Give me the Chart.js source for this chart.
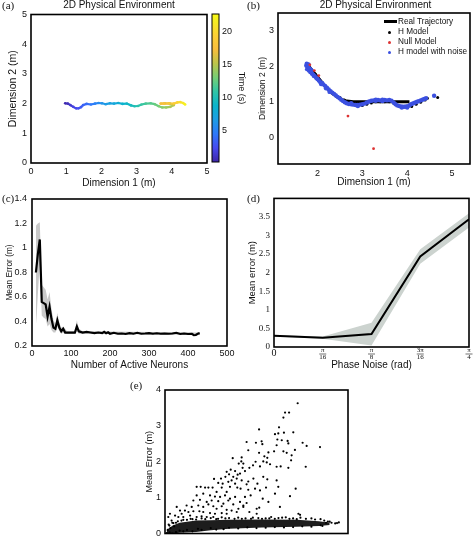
<!DOCTYPE html>
<html><head><meta charset="utf-8">
<script src="https://cdn.jsdelivr.net/npm/chart.js@4"></script>
<style>
html,body{margin:0;padding:0;background:#fff;overflow:hidden;width:474px;height:538px;}
canvas{position:absolute;left:0;top:0;}
.t{position:absolute;white-space:nowrap;font-family:"Liberation Sans",Arial,sans-serif;color:#111;line-height:1;transform:translate(-50%,-50%);}
.pl{position:absolute;white-space:nowrap;font-family:"Liberation Serif",serif;color:#111;font-size:11px;line-height:1;transform:translateY(-50%);}
.lt{position:absolute;white-space:nowrap;font-family:"Liberation Sans",Arial,sans-serif;color:#111;font-size:8.2px;line-height:1;transform:translateY(-50%);}
.sw{position:absolute;}
</style></head><body>
<canvas id="ca" width="474" height="538"></canvas>
<canvas id="ccb" width="474" height="538"></canvas>
<canvas id="cb" width="474" height="538"></canvas>
<canvas id="cc" width="474" height="538"></canvas>
<canvas id="cd" width="474" height="538"></canvas>
<canvas id="ce" width="474" height="570"></canvas>

<div class="pl" style="left:2px;top:5px">(a)</div>
<div class="t" style="left:119px;top:4.5px;font-size:10px">2D Physical Environment</div>
<div class="pl" style="left:247px;top:5px">(b)</div>
<div class="t" style="left:375.5px;top:4.5px;font-size:10px">2D Physical Environment</div>
<div class="pl" style="left:2px;top:198px">(c)</div>
<div class="pl" style="left:247px;top:197.5px">(d)</div>
<div class="pl" style="left:130px;top:385px">(e)</div>

<div class="sw" style="left:384px;top:20.3px;width:13px;height:3px;background:#000"></div>
<div class="lt" style="left:398px;top:21.7px">Real Trajectory</div>
<div class="sw" style="left:388px;top:30.8px;width:3px;height:3px;border-radius:50%;background:#000"></div>
<div class="lt" style="left:398px;top:32.3px">H Model</div>
<div class="sw" style="left:388px;top:40.8px;width:3px;height:3px;border-radius:50%;background:#dd3333"></div>
<div class="lt" style="left:398px;top:42.3px">Null Model</div>
<div class="sw" style="left:388px;top:50.8px;width:3px;height:3px;border-radius:50%;background:#3b50e0"></div>
<div class="lt" style="left:398px;top:52.3px">H model with noise</div>

<script>
// ---------- Panel (a): trajectory coloured by time ----------
const trajX = [0.97,1.05,1.12,1.2,1.28,1.35,1.42,1.48,1.58,1.7,1.82,1.92,2.02,2.12,2.24,2.36,2.48,2.6,2.72,2.84,2.94,3.04,3.14,3.26,3.4,3.52,3.63,3.73,3.84,3.96,4.06,3.94,3.8,3.68,3.78,3.92,4.06,4.16,4.24,4.32,4.38];
const trajY = [2.01,2.0,1.95,1.89,1.84,1.84,1.88,1.95,1.99,1.97,2.0,2.02,2.01,1.98,2.01,2.0,2.02,1.99,2.0,1.94,1.91,1.92,1.97,2.0,2.01,1.98,1.91,1.87,1.87,1.89,1.95,2.0,2.01,2.0,2.0,2.01,2.0,2.04,2.05,2.02,1.97];
const trajT = [0.5,1,1.5,2,2.4,2.8,3.2,3.6,4,4.6,5.2,5.7,6.2,6.7,7.2,7.7,8.2,8.7,9.2,9.7,10.2,10.7,11.2,11.7,12.2,12.7,13.2,13.7,14.2,14.7,15.2,16,16.6,17.2,17.8,18.4,19,19.8,20.6,21.4,22.2];
const aTicks = [0,1,2,3,4,5];
const cbarRange = [0.3, 22.7];
const cbarTicks = [5,10,15,20];

// ---------- Panel (b) ----------
const realX = [1.79,1.85,1.95,2.05,2.15,2.25,2.35,2.45,2.55,2.65,2.8,3.0,3.5,4.05];
const realY = [2.04,1.93,1.78,1.62,1.47,1.33,1.22,1.13,1.06,1.02,1.0,1.0,1.0,1.0];
const hX = [1.8,1.85,1.9,1.95,2.0,2.05,2.1,2.2,2.3,2.4,2.5,2.6,2.7,2.8,2.9,3.0,3.1,3.2,3.3,3.4,3.5,3.6,3.7,3.8,3.9,4.0,4.1,4.2,4.3,4.4,4.45,4.68];
const hY = [2.0,1.92,1.85,1.78,1.7,1.62,1.55,1.42,1.3,1.2,1.12,1.05,1.0,0.96,0.92,0.9,0.93,0.97,1.0,1.0,1.0,1.0,0.96,0.9,0.86,0.85,0.87,0.93,0.99,1.05,1.1,1.12];
const nullX = [1.83,1.93,2.03,2.68,3.25];
const nullY = [2.04,1.88,1.74,0.6,-0.32];
const noiseX = [1.75,1.76,1.78,1.77,1.8,1.81,1.84,1.86,1.88,1.91,1.94,1.97,2.0,2.03,2.06,2.1,2.13,2.17,2.21,2.25,2.29,2.33,2.37,2.41,2.45,2.49,2.53,2.57,2.61,2.65,2.7,2.75,2.8,2.85,2.9,2.95,3.0,3.05,3.1,3.15,3.2,3.25,3.3,3.35,3.4,3.45,3.5,3.55,3.6,3.65,3.7,3.74,3.78,3.82,3.86,3.9,3.94,3.98,4.02,4.06,4.1,4.14,4.18,4.22,4.26,4.3,4.34,4.38,4.42,4.6,1.79,1.83,1.87,1.92,1.99,2.08,2.19,2.27,2.75,2.9,3.3,3.45,3.88,4.0];
const noiseY = [2.02,2.07,1.97,1.92,2.05,1.88,1.84,1.9,1.79,1.76,1.72,1.68,1.64,1.6,1.56,1.53,1.49,1.45,1.4,1.35,1.3,1.26,1.22,1.18,1.14,1.1,1.06,1.02,0.99,0.96,0.94,0.93,0.92,0.91,0.91,0.92,0.93,0.95,0.98,1.01,1.03,1.04,1.03,1.05,1.04,1.06,1.05,1.04,1.05,1.03,0.98,0.93,0.9,0.88,0.87,0.86,0.86,0.87,0.88,0.91,0.94,0.96,0.98,1.0,1.02,1.04,1.06,1.08,1.1,1.17,2.0,1.93,1.82,1.73,1.66,1.5,1.38,1.28,0.96,0.88,1.06,1.02,0.84,0.84];
const bTicksX = [2,3,4,5];
const bTicksY = [0,1,2,3];

// ---------- Panel (c) ----------
const neurons = [10,15,20,25,30,35,40,45,50,55,60,65,70,75,80,85,90,100,110,115,120,130,140,150,160,170,180,185,190,195,200,210,220,230,240,250,260,270,280,290,300,310,320,330,340,350,360,370,380,390,400,410,415,420,425,430];
const meanErr = [0.80,0.95,1.07,0.56,0.55,0.54,0.44,0.52,0.42,0.35,0.34,0.41,0.35,0.32,0.34,0.31,0.31,0.31,0.31,0.36,0.32,0.31,0.315,0.31,0.305,0.31,0.305,0.315,0.305,0.312,0.3,0.308,0.3,0.302,0.298,0.305,0.3,0.308,0.3,0.302,0.305,0.3,0.304,0.3,0.302,0.3,0.302,0.308,0.298,0.302,0.298,0.3,0.288,0.29,0.3,0.305];
const bandN = [10,12,15,20,25,30,35,40,45,50,55,60,65,70,75,80,90,110,115,120,130,430];
const bandLow = [0.37,0.45,0.62,0.88,0.45,0.43,0.42,0.36,0.38,0.33,0.31,0.31,0.36,0.32,0.3,0.31,0.3,0.3,0.32,0.3,0.3,0.29];
const bandHigh = [1.18,1.19,1.2,1.21,0.7,0.68,0.66,0.58,0.64,0.5,0.41,0.38,0.47,0.39,0.35,0.36,0.32,0.32,0.41,0.34,0.32,0.31];
const cTicksX = [0,100,200,300,400,500];
const cTicksY = [0.2,0.4,0.6,0.8,1,1.2,1.4];

// ---------- Panel (d) ----------
const phase = [0, 0.19635, 0.392699, 0.589049, 0.785398];
const phaseLabels = [['0'], ['π','16'], ['π','8'], ['3π','16'], ['π','4']];
const dMean = [0.3,0.25,0.35,2.44,3.44];
const dLow = [0.28,0.22,0.04,2.24,3.22];
const dHigh = [0.32,0.28,0.65,2.63,3.6];
const dTicksY = [0,0.5,1,1.5,2,2.5,3,3.5];

// ---------- Panel (e) ----------
const eX = [72.5,65.6,67.8,64.7,51.4,62.3,60.1,61.9,65.0,70.1,61.4,63.8,67.0,44.6,49.7,52.8,53.2,61.0,67.4,75.2,77.4,41.9,56.5,59.6,64.7,66.5,69.2,45.5,51.4,54.3,55.9,53.7,37.0,40.3,41.7,42.8,71.0,35.9,38.3,39.7,41.0,42.4,43.7,46.1,48.1,49.5,51.9,55.6,57.4,61.0,63.2,67.4,68.9,33.7,35.0,33.0,30.6,37.3,39.2,36.4,41.9,45.5,48.3,53.7,55.9,26.8,29.1,31.5,34.6,38.3,39.5,44.6,49.2,50.5,61.0,61.9,76.9,17.3,19.5,21.9,23.7,26.0,28.2,31.0,33.7,35.5,41.3,45.5,51.9,55.2,60.1,71.4,17.3,20.9,24.6,27.3,30.1,32.8,35.5,38.3,43.7,46.8,53.4,68.3,15.5,19.1,22.8,25.5,29.1,31.9,34.6,37.3,41.0,42.8,44.6,50.1,51.5,56.5,62.8,11.8,14.6,18.2,20.9,23.7,26.4,28.2,31.0,33.7,36.4,40.1,42.8,46.1,50.1,72.9,73.8,6.4,8.2,10.9,12.8,15.5,18.8,20.9,24.6,27.3,31.0,33.7,39.2,2.7,5.5,7.3,9.1,10.0,13.7,17.3,20.0,22.8,26.4,1.8,3.6,4.6,2.4,84.7,88,90,93,95,12,20,28,35,42,48,55,62,68,74,80,85,6,9,15,31,58,66,1,2.5,4,6,8,12,18,25,35,45,60,75,85,4,7,10,14,17,22,25,29,33,38,40,44,47,51,53,57,60,64,70,72,77,82,87,89,91,94,10,15,20,28,32,40,50,55,65,70,80,86,1.5,3,2,5];
const eY = [3.63,3.37,3.37,3.23,2.90,2.96,2.77,2.79,2.81,2.82,2.62,2.60,2.58,2.55,2.53,2.57,2.49,2.46,2.51,2.53,2.44,2.12,2.26,2.29,2.29,2.25,2.18,2.32,2.25,2.15,2.11,2.01,2.10,1.95,2.01,1.95,2.33,1.78,1.74,1.64,1.67,1.83,1.74,1.83,1.90,2.00,1.87,1.98,1.93,1.86,1.87,1.83,2.04,1.72,1.65,1.58,1.53,1.58,1.53,1.48,1.48,1.45,1.53,1.58,1.51,1.52,1.41,1.39,1.44,1.39,1.28,1.37,1.25,1.39,1.48,1.30,1.86,1.30,1.30,1.28,1.28,1.28,1.16,1.28,1.16,1.30,1.25,1.22,1.20,1.28,1.11,1.25,1.06,1.11,1.06,1.03,1.02,1.06,0.97,1.02,1.02,1.06,0.97,1.04,0.92,0.94,0.88,0.92,0.90,0.83,0.92,0.81,0.88,0.78,0.85,0.69,0.72,0.88,0.74,0.78,0.74,0.78,0.74,0.81,0.76,0.69,0.76,0.66,0.64,0.69,0.74,0.60,0.55,0.55,0.52,0.74,0.64,0.64,0.60,0.62,0.62,0.60,0.57,0.55,0.57,0.55,0.60,0.55,0.50,0.46,0.55,0.46,0.50,0.46,0.48,0.46,0.46,0.46,0.36,0.29,0.22,2.41,0.3,0.33,0.28,0.31,0.38,0.42,0.40,0.43,0.41,0.44,0.42,0.43,0.41,0.44,0.42,0.40,0.30,0.36,0.40,0.45,0.46,0.45,0.01,0.03,0.0,0.04,0.08,0.1,0.13,0.15,0.16,0.17,0.18,0.2,0.23,0.3,0.34,0.38,0.41,0.39,0.4,0.43,0.41,0.42,0.41,0.44,0.42,0.41,0.43,0.41,0.42,0.41,0.44,0.42,0.4,0.41,0.39,0.36,0.33,0.3,0.29,0.06,0.06,0.1,0.11,0.12,0.14,0.15,0.16,0.17,0.18,0.19,0.21,0.1,0.15,0.25,0.2];
const eBandX = [0.9,4.2,8,17,25,35,53,72,84,90];
const eBandLow = [0.0,0.0,0.02,0.04,0.09,0.13,0.17,0.19,0.21,0.24];
const eBandHigh = [0.1,0.22,0.3,0.36,0.37,0.38,0.39,0.38,0.34,0.3];
const eTicksY = [0,1,2,3,4];

// ---------- styling helpers ----------
const SANS = '"Liberation Sans", Arial, Helvetica, sans-serif';
const SERIF = '"Liberation Serif", "Times New Roman", serif';
Chart.defaults.font.family = SANS;
Chart.defaults.color = '#111';

const PARULA = [[0,[62,38,168]],[0.095,[71,74,239]],[0.19,[46,121,251]],[0.286,[30,157,228]],[0.381,[10,180,204]],[0.476,[49,197,166]],[0.571,[118,206,117]],[0.667,[190,197,74]],[0.762,[249,190,61]],[0.857,[252,208,53]],[0.952,[245,237,35]],[1,[249,251,20]]];
function rgb(c){return 'rgb('+c.map(Math.round).join(',')+')';}
function parula(f){
  f = Math.max(0, Math.min(1, f));
  for (let i = 1; i < PARULA.length; i++) {
    if (f <= PARULA[i][0]) {
      const [f0,c0] = PARULA[i-1], [f1,c1] = PARULA[i];
      const u = (f - f0) / (f1 - f0);
      return rgb(c0.map((v,k) => v + (c1[k]-v)*u));
    }
  }
  return rgb(PARULA[PARULA.length-1][1]);
}
const tNorm = t => (t - cbarRange[0]) / (cbarRange[1] - cbarRange[0]);

const framePlugin = {
  id: 'frame',
  afterDatasetsDraw(chart, args, opts) {
    const {ctx, chartArea: a} = chart;
    ctx.save();
    ctx.strokeStyle = '#000';
    ctx.lineWidth = opts.width || 1.6;
    ctx.strokeRect(a.left, a.top, a.right - a.left, a.bottom - a.top);
    ctx.restore();
  }
};
Chart.register(framePlugin);

function box(l,t,r,b,wy,hx,H){ return {left:l-wy, top:t, right:474-r, bottom:H-b-hx}; }
function lin(o){
  return {
    type:'linear', position:o.pos, min:o.min, max:o.max, display:o.display!==false,
    afterBuildTicks: s => { if (o.ticks) s.ticks = o.ticks.map(v => ({value:v})); },
    afterFit: s => { if (s.isHorizontal()) s.height = o.size; else s.width = o.size; },
    grid:{display:false, drawTicks:false}, border:{display:false},
    ticks:{display:o.showTicks!==false, padding:o.pad||0, autoSkip:false, maxRotation:0, minRotation:0, color:'#111',
           font:o.font||{size:9}, callback:o.cb||(v => String(v))},
    title:{display:!!o.title, text:o.title||'', color:'#111', font:{size:o.ts||10}, padding:o.tp||0}
  };
}
function opts(padding, scales, extra){
  return {responsive:false, animation:false, events:[], layout:{padding},
    plugins:Object.assign({legend:{display:false}, tooltip:{enabled:false}}, extra||{}), scales};
}
const pts = (xs, ys) => xs.map((x,i) => ({x, y:ys[i]}));
const clear = 'rgba(0,0,0,0)';

// ---------- (a) ----------
new Chart('ca', {
  type:'line',
  data:{datasets:[{
    data: pts(trajX, trajY), tension:0, borderWidth:2.2, borderColor: parula(0),
    segment:{borderColor: c => parula(tNorm(trajT[c.p0DataIndex]))},
    pointRadius:1.3, pointBorderWidth:0, pointBackgroundColor: trajT.map(t => parula(tNorm(t)))
  }]},
  options: opts(box(31,14.5,207,163,31,26,538), {
    x: lin({pos:'bottom', min:0, max:5, ticks:aTicks, size:26, pad:3.5, title:'Dimension 1 (m)'}),
    y: lin({pos:'left', min:0, max:5, ticks:aTicks, size:31, pad:4, title:'Dimension 2 (m)', ts:10.5, tp:6.7})
  })
});

// ---------- colorbar ----------
new Chart('ccb', {
  type:'bar',
  data:{labels:[''], datasets:[{
    data:[cbarRange], barPercentage:1, categoryPercentage:1, borderWidth:0,
    backgroundColor: c => {
      const a = c.chart.chartArea; if (!a) return '#888';
      const g = c.chart.ctx.createLinearGradient(0, a.bottom, 0, a.top);
      PARULA.forEach(([f,col]) => g.addColorStop(f, rgb(col)));
      return g;
    }
  }]},
  options: opts({left:212, top:14, right:227, bottom:376}, {
    x: {display:false},
    y: lin({pos:'right', min:cbarRange[0], max:cbarRange[1], ticks:cbarTicks, size:28, pad:3, title:'Time (s)', ts:9, tp:0.6})
  }, {frame:{width:1}})
});

// ---------- (b) ----------
new Chart('cb', {
  type:'line',
  data:{datasets:[
    {data: pts(nullX, nullY), showLine:false, pointRadius:1.4, pointBorderWidth:0, pointBackgroundColor:'#dd3333'},
    {data: pts(noiseX, noiseY), showLine:false, pointRadius:2.2, pointBorderWidth:0, pointBackgroundColor:'#3b50e0'},
    {data: pts(hX, hY), showLine:false, pointRadius:1.5, pointBorderWidth:0, pointBackgroundColor:'#000'},
    {data: pts(realX, realY), borderColor:'#000', borderWidth:3, pointRadius:0, tension:0}
  ]},
  options: opts(box(278,13,473,164,22,24.7,538), {
    x: lin({pos:'bottom', min:1.12, max:5.4, ticks:bTicksX, size:24.7, pad:4, title:'Dimension 1 (m)'}),
    y: lin({pos:'left', min:-0.75, max:3.5, ticks:bTicksY, size:22, pad:4, title:'Dimension 2 (m)', ts:8.6, tp:1.5})
  })
});

// ---------- (c) ----------
new Chart('cc', {
  type:'line',
  data:{datasets:[
    {data: pts(neurons, meanErr), borderColor:'#000', borderWidth:2.2, pointRadius:0, tension:0},
    {data: pts(bandN, bandLow), borderColor:clear, pointRadius:0, fill:false, tension:0},
    {data: pts(bandN, bandHigh), borderColor:clear, pointRadius:0, fill:'-1', backgroundColor:'#c9c9c9', tension:0}
  ]},
  options: opts(box(32,199,227,346,32,25.7,538), {
    x: lin({pos:'bottom', min:0, max:500, ticks:cTicksX, size:25.7, pad:2.3, title:'Number of Active Neurons'}),
    y: lin({pos:'left', min:0.2, max:1.4, ticks:cTicksY, size:32, pad:5, title:'Mean Error (m)', ts:8.3, tp:5})
  })
});

// ---------- (d) ----------
const fracBars = {
  id:'fracBars',
  afterDraw(chart){
    const s = chart.scales.x, c = chart.ctx;
    c.save(); c.strokeStyle = '#111'; c.lineWidth = 0.6;
    phase.forEach((v,i) => {
      if (phaseLabels[i].length < 2) return;
      const x = s.getPixelForValue(v);
      c.beginPath(); c.moveTo(x-3.5, s.top+7); c.lineTo(x+3.5, s.top+7); c.stroke();
    });
    c.restore();
  }
};
new Chart('cd', {
  type:'line',
  data:{datasets:[
    {data: pts(phase, dMean), borderColor:'#000', borderWidth:2, pointRadius:0, tension:0},
    {data: pts(phase, dLow), borderColor:clear, pointRadius:0, fill:false, tension:0},
    {data: pts(phase, dHigh), borderColor:clear, pointRadius:0, fill:'-1', backgroundColor:'#ccd3cf', tension:0}
  ]},
  options: opts(box(274,198.4,469,347,28,24.7,538), {
    x: lin({pos:'bottom', min:0, max:phase[phase.length-1], ticks:phase, size:24.7, pad:0, title:'Phase Noise (rad)',
            font: c => c.index === 0 ? {family:SERIF, size:10, lineHeight:1.2} : {family:SERIF, size:7, lineHeight:1},
            cb: (v,i) => phaseLabels[i]}),
    y: lin({pos:'left', min:0, max:4, ticks:dTicksY, size:28, pad:4, title:'Mean error (m)', ts:9.5, tp:1,
            font:{family:SERIF, size:9}})
  }),
  plugins:[fracBars]
});

// ---------- (e) ----------
new Chart('ce', {
  type:'line',
  data:{datasets:[
    {data: pts(eX, eY), showLine:false, pointRadius:1.1, pointBorderWidth:0, pointBackgroundColor:'#000'},
    {data: pts(eBandX, eBandLow), borderColor:clear, pointRadius:0, fill:false, tension:0},
    {data: pts(eBandX, eBandHigh), borderColor:clear, pointRadius:0, fill:'-1', backgroundColor:'rgba(10,10,10,0.92)', tension:0}
  ]},
  options: opts(box(165,390,348,533.5,21,0,570), {
    x: lin({pos:'bottom', min:0, max:100, display:false, size:0}),
    y: lin({pos:'left', min:0, max:4, ticks:eTicksY, size:21, pad:4, title:'Mean Error (m)', ts:9.1, tp:0.5})
  })
});
</script>
</body></html>
